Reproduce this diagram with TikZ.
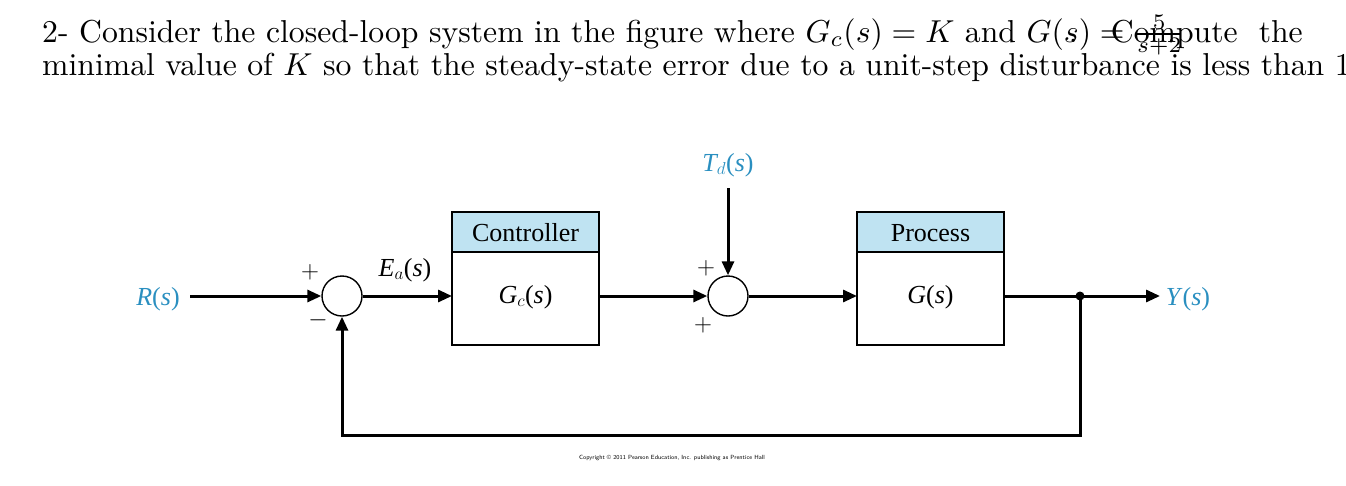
\documentclass[tikz,border=0pt]{standalone}
\usepackage{fontspec}
\newfontfamily\timesf{Liberation Serif}
\usetikzlibrary{arrows.meta}
\definecolor{hdr}{HTML}{BFE3F2}
\definecolor{sig}{HTML}{2A8FC0}
\begin{document}
\begin{tikzpicture}[x=1pt,y=-1pt,
  wire/.style={line width=3pt},
  arr/.style={wire,-{Triangle[length=14pt,width=12pt]}},
  sumnode/.style={circle,draw,line width=1.4pt,minimum size=40pt,inner sep=0pt},
  sig/.style={text=sig,font=\timesf\fontsize{26}{30}\selectfont},
  lbl/.style={font=\timesf\fontsize{26}{30}\selectfont},
  pm/.style={font=\fontsize{26}{30}\selectfont}]
\useasboundingbox (0,0) rectangle (1346,485);
\node[anchor=base west,inner sep=0pt] (l1) at (42,42) {\scalebox{3.17}{2- Consider the closed-loop system in the figure where $G_c(s)=K$ and $G(s)=\frac{5}{s+2}$}};
\node[anchor=base east,inner sep=0pt] (l1b) at (1303,42) {\scalebox{3.17}{.\hspace{6pt} Compute\ \ the}};
\node[anchor=base west,inner sep=0pt] (l2) at (42,75) {\scalebox{3.17}{minimal value of $K$ so that the steady-state error due to a unit-step disturbance is less than 10\%.}};
% boxes
\fill[hdr] (452,212) rectangle (599,252);
\fill[hdr] (857,212) rectangle (1004,252);
\draw[line width=1.8pt] (452,212) rectangle (599,345) (452,252) -- (599,252);
\draw[line width=1.8pt] (857,212) rectangle (1004,345) (857,252) -- (1004,252);
\node[lbl] (ch) at (525.5,233) {Controller};
\node[lbl] (ph) at (930.5,233) {Process};
\node[lbl] (gc) at (525.5,297) {\textit{G}$_c$(\textit{s})};
\node[lbl] (gp) at (930.5,297) {\textit{G}(\textit{s})};
\coordinate (cin) at (452,296); \coordinate (cout) at (599,296);
\coordinate (pin) at (857,296); \coordinate (pout) at (1004,296);
\node[sumnode] (s1) at (342,296) {};
\node[sumnode] (s2) at (728,296) {};
\node[sig] (R) at (158,299) {\textit{R}(\textit{s})};
\node[sig] (Y) at (1188,299) {\textit{Y}(\textit{s})};
\node[sig] (Td) at (728,165) {\textit{T$_d$}(\textit{s})};
\node[lbl] (Ea) at (405,270) {\textit{E$_a$}(\textit{s})};
\node[pm] at (310,272) {$+$};
\node[pm] at (318,320) {$-$};
\node[pm] at (706,268) {$+$};
\node[pm] at (703,325) {$+$};
\coordinate (rst) at (190,296);
\coordinate (tdtop) at (728,188);
\coordinate (br) at (1080,296);
\coordinate (yend) at (1160,296);
\coordinate (fb1) at (1080,435);
\coordinate (fb2) at (342,435);
\draw[arr] (rst) -- (s1.west);
\draw[arr] (s1.east) -- (cin);
\draw[arr] (cout) -- (s2.west);
\draw[arr] (tdtop) -- (s2.north);
\draw[arr] (s2.east) -- (pin);
\draw[arr] (pout) -- (yend);
\fill (br) circle (4.5pt);
\draw[arr] (br) -- (fb1) -- (fb2) -- (s1.south);
\node[font=\fontsize{6}{7}\sffamily\selectfont] (cp) at (672,458) {Copyright \textcopyright\ 2011 Pearson Education, Inc. publishing as Prentice Hall};
\end{tikzpicture}
\end{document}
